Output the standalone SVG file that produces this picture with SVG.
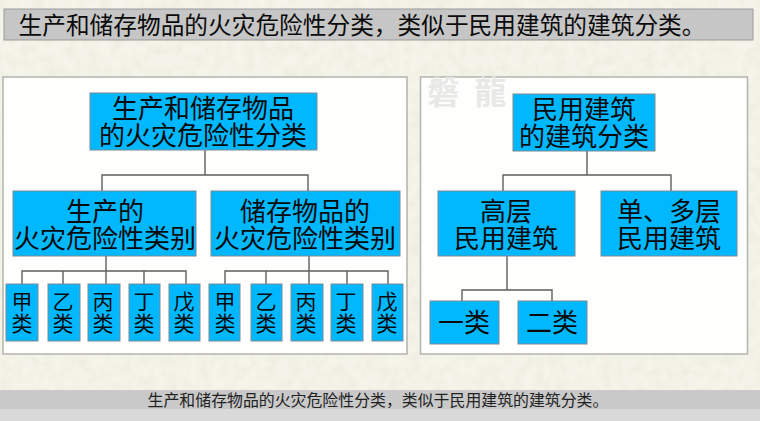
<svg xmlns="http://www.w3.org/2000/svg" width="760" height="421" viewBox="0 0 760 421">
<defs>
<filter id="paper" x="0" y="0" width="100%" height="100%"><feTurbulence type="fractalNoise" baseFrequency="0.09" numOctaves="3" seed="4"/><feColorMatrix values="0 0 0 0 0.84  0 0 0 0 0.84  0 0 0 0 0.74  1.8 0 0 0 -0.65"/></filter>
</defs>
<style>
text{font-family:"Noto Sans CJK SC","Noto Sans",sans-serif;fill:#0a0a0a;text-anchor:middle}
.n rect{fill:#00b8ff;stroke:#7d8a92;stroke-width:1}
.p{fill:#fefefc;stroke:#b4b4ae;stroke-width:1.5}
.big{font-size:26px}
.sm{font-size:21px}
#connectors path{fill:none;stroke:#5e5e5e;stroke-width:1.4}
</style>
<rect width="760" height="421" fill="#f4f4ea"/>
<rect width="760" height="390" filter="url(#paper)"/>
<g id="title"><rect x="4" y="9" width="749" height="31" fill="#c6c6c6" stroke="#9a9a9a"/>
<text x="362" y="34" style="font-size:23.7px">生产和储存物品的火灾危险性分类，类似于民用建筑的建筑分类。</text></g>
<rect class="p" x="3" y="77" width="404" height="277"/>
<rect class="p" x="420.500" y="77" width="327" height="277"/>
<text x="469" y="104" style="font-size:32px;letter-spacing:4px;fill:#e8e8e6;font-weight:700">磐 龍</text>
<g id="connectors">
<path d="M205 150V175M102 191V175H308V191"/>
<path d="M106 256V284M22 284V271H186V284M63 271V284M144 271V284"/>
<path d="M309 256V284M225 284V271H388V284M266 271V284M347 271V284"/>
<path d="M587 151V175M503 191V175H671V191"/>
<path d="M507 256V290M462 301V290H552V301"/>
</g>
<g id="n-root" class="n"><rect x="90" y="93" width="227" height="57"/><text class="big"><tspan x="203" y="118">生产和储存物品</tspan><tspan x="203" y="145">的火灾危险性分类</tspan></text></g>
<g id="n-prod" class="n"><rect x="13" y="191" width="183" height="65"/><text class="big"><tspan x="105" y="221">生产的</tspan><tspan x="105" y="248">火灾危险性类别</tspan></text></g>
<g id="n-stor" class="n"><rect x="211" y="191" width="189" height="65"/><text class="big"><tspan x="305" y="221">储存物品的</tspan><tspan x="305" y="248">火灾危险性类别</tspan></text></g>
<g id="n-a1" class="n"><rect x="6" y="284" width="32" height="57"/><text class="sm"><tspan x="22" y="309">甲</tspan><tspan x="22" y="331">类</tspan></text></g>
<g id="n-a2" class="n"><rect x="48" y="284" width="32" height="57"/><text class="sm"><tspan x="63" y="309">乙</tspan><tspan x="63" y="331">类</tspan></text></g>
<g id="n-a3" class="n"><rect x="88" y="284" width="32" height="57"/><text class="sm"><tspan x="103" y="309">丙</tspan><tspan x="103" y="331">类</tspan></text></g>
<g id="n-a4" class="n"><rect x="129" y="284" width="31" height="57"/><text class="sm"><tspan x="144" y="309">丁</tspan><tspan x="144" y="331">类</tspan></text></g>
<g id="n-a5" class="n"><rect x="169" y="284" width="31" height="57"/><text class="sm"><tspan x="184" y="309">戊</tspan><tspan x="184" y="331">类</tspan></text></g>
<g id="n-b1" class="n"><rect x="209" y="284" width="31" height="57"/><text class="sm"><tspan x="225" y="309">甲</tspan><tspan x="225" y="331">类</tspan></text></g>
<g id="n-b2" class="n"><rect x="251" y="284" width="31" height="57"/><text class="sm"><tspan x="266" y="309">乙</tspan><tspan x="266" y="331">类</tspan></text></g>
<g id="n-b3" class="n"><rect x="291" y="284" width="32" height="57"/><text class="sm"><tspan x="306" y="309">丙</tspan><tspan x="306" y="331">类</tspan></text></g>
<g id="n-b4" class="n"><rect x="331" y="284" width="32" height="57"/><text class="sm"><tspan x="346" y="309">丁</tspan><tspan x="346" y="331">类</tspan></text></g>
<g id="n-b5" class="n"><rect x="372" y="284" width="31" height="57"/><text class="sm"><tspan x="387" y="309">戊</tspan><tspan x="387" y="331">类</tspan></text></g>
<g id="n-civil" class="n"><rect x="513" y="94" width="142" height="57"/><text class="big"><tspan x="584" y="119">民用建筑</tspan><tspan x="584" y="146">的建筑分类</tspan></text></g>
<g id="n-high" class="n"><rect x="438" y="191" width="137" height="65"/><text class="big"><tspan x="506" y="221">高层</tspan><tspan x="506" y="248">民用建筑</tspan></text></g>
<g id="n-low" class="n"><rect x="601" y="191" width="136" height="65"/><text class="big"><tspan x="669" y="221">单、多层</tspan><tspan x="669" y="248">民用建筑</tspan></text></g>
<g id="n-c1" class="n"><rect x="430" y="301" width="69" height="43"/><text class="big" x="464" y="332">一类</text></g>
<g id="n-c2" class="n"><rect x="518" y="301" width="69" height="43"/><text class="big" x="552" y="332">二类</text></g>
<g id="caption"><rect y="390" width="760" height="19" fill="#c9c9c9"/><rect y="409" width="760" height="12" fill="#d9d9d9"/>
<text x="378" y="406" style="font-size:15.9px;fill:#222">生产和储存物品的火灾危险性分类，类似于民用建筑的建筑分类。</text></g>
</svg>
